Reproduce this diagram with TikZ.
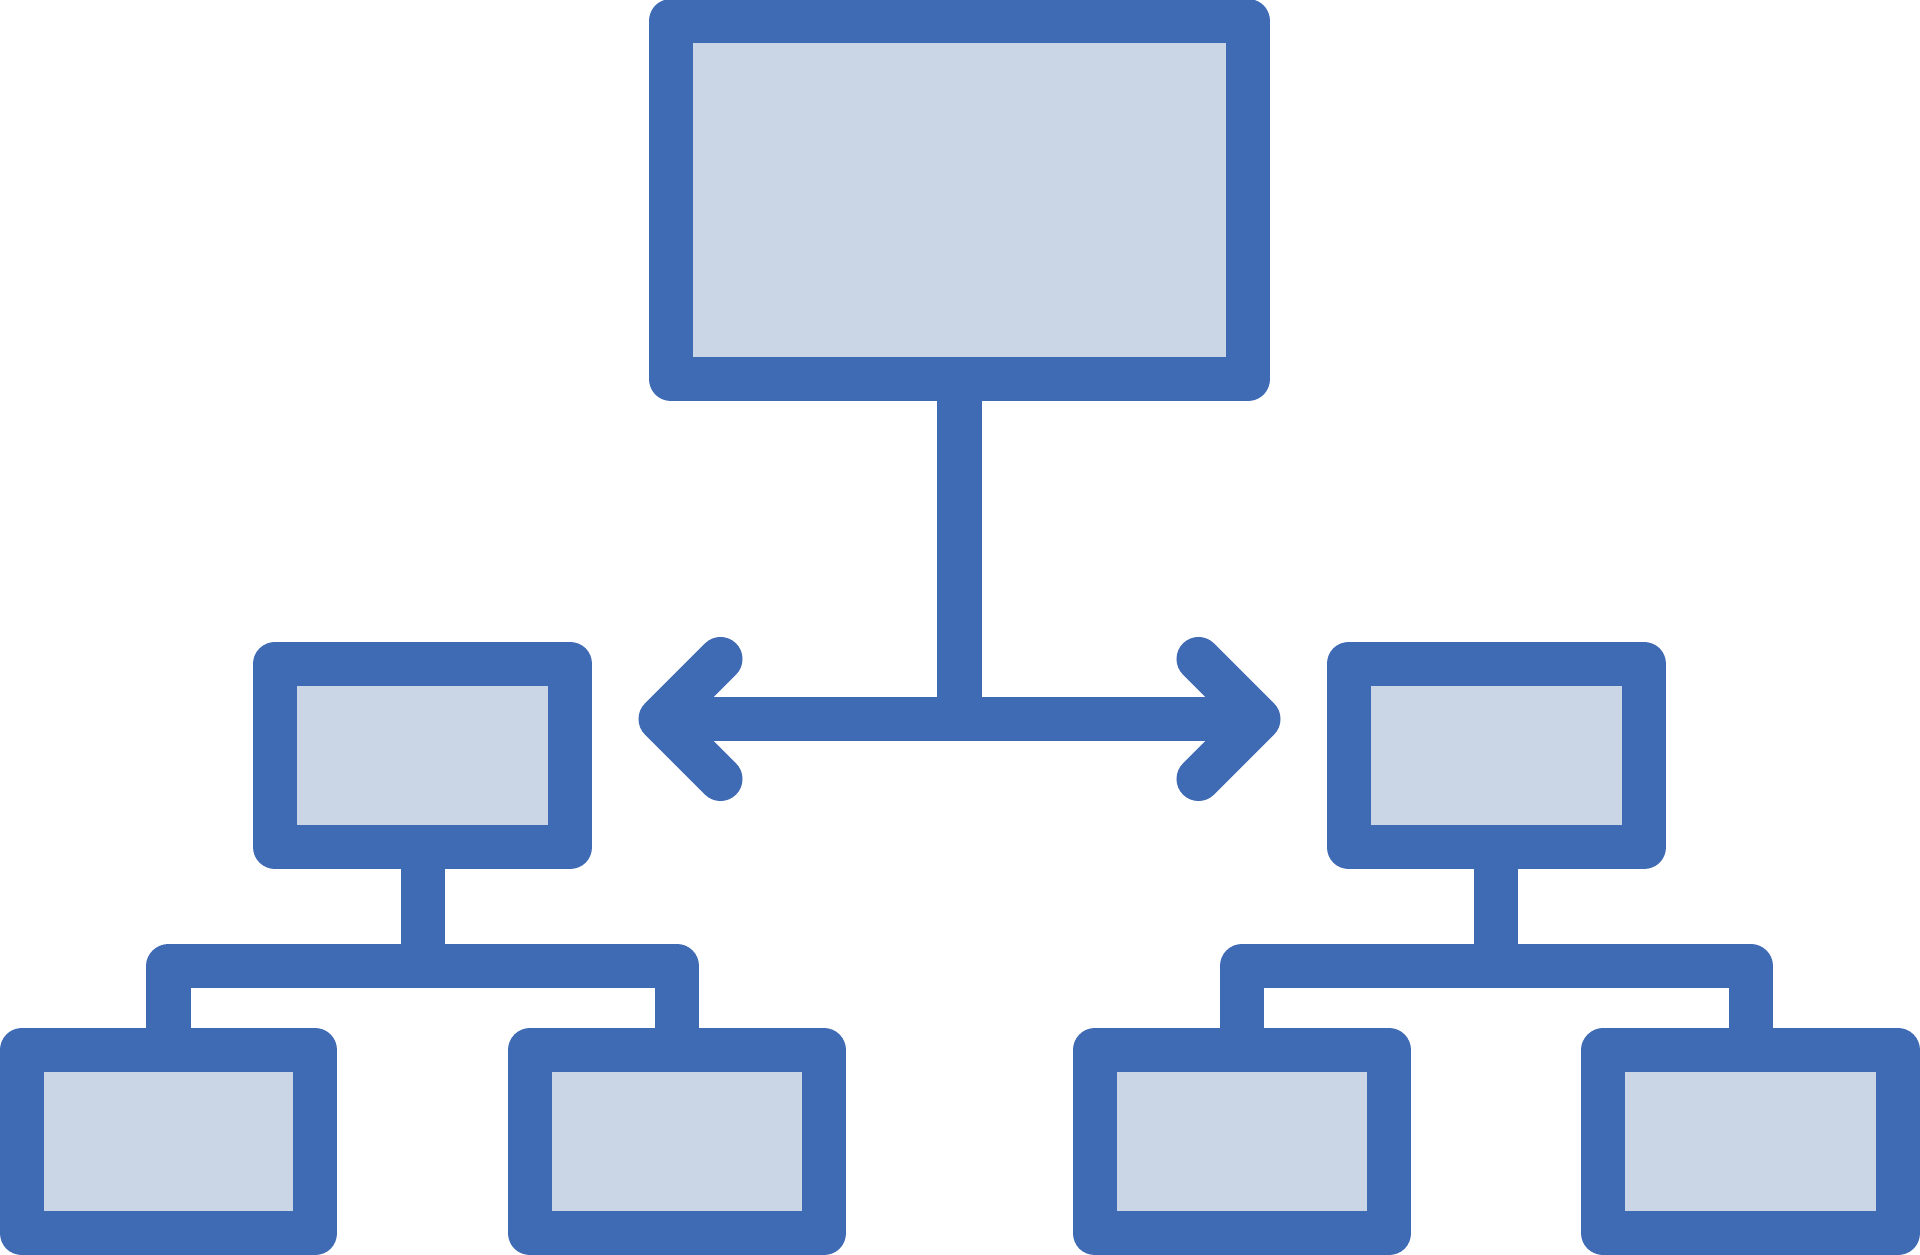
\documentclass[tikz,border=0pt]{standalone}
\usetikzlibrary{calc}
\definecolor{stroke}{RGB}{63,106,180}
\definecolor{light}{RGB}{202,213,230}
\tikzset{
  box/.style={draw=stroke, fill=light, line width=0.44cm, line join=round,
              rectangle, inner sep=0pt, outer sep=0pt},
  conn/.style={draw=stroke, line width=0.44cm, line join=round},
  chev/.style={draw=stroke, line width=0.44cm, line join=round, line cap=round}
}
\begin{document}
\begin{tikzpicture}[x=0.01cm, y=-0.01cm]
\useasboundingbox (0,0) rectangle (1920,1255);
% nodes
\node[box, minimum width=5.77cm, minimum height=3.58cm] (top) at (959.5,200) {};
\node[box, minimum width=2.945cm, minimum height=1.837cm] (m1) at (422.75,755.5) {};
\node[box, minimum width=2.951cm, minimum height=1.837cm] (m2) at (1496.35,755.5) {};
\node[box, minimum width=2.936cm, minimum height=1.829cm] (b1) at (168.5,1141.75) {};
\node[box, minimum width=2.94cm, minimum height=1.829cm] (b2) at (677,1141.75) {};
\node[box, minimum width=2.945cm, minimum height=1.829cm] (b3) at (1242,1141.75) {};
\node[box, minimum width=2.945cm, minimum height=1.829cm] (b4) at (1750.75,1141.75) {};
\coordinate (L) at (660.5,719);
\coordinate (R) at (1258.5,719);
\coordinate (hub) at (top.south |- L);
\coordinate (jL) at (m1.south |- 0,966);
\coordinate (jR) at (m2.south |- 0,966);
% stem and double arrow
\draw[conn] (top.south) -- (hub);
\draw[conn] (L) -- (R);
\draw[chev] ($(L)+(60,-60)$) -- (L) -- ($(L)+(60,60)$);
\draw[chev] ($(R)+(-60,-60)$) -- (R) -- ($(R)+(-60,60)$);
% left subtree
\draw[conn] (m1.south) -- (jL);
\draw[conn] (b1.north) |- (jL) -| (b2.north);
% right subtree
\draw[conn] (m2.south) -- (jR);
\draw[conn] (b3.north) |- (jR) -| (b4.north);
\end{tikzpicture}
\end{document}
